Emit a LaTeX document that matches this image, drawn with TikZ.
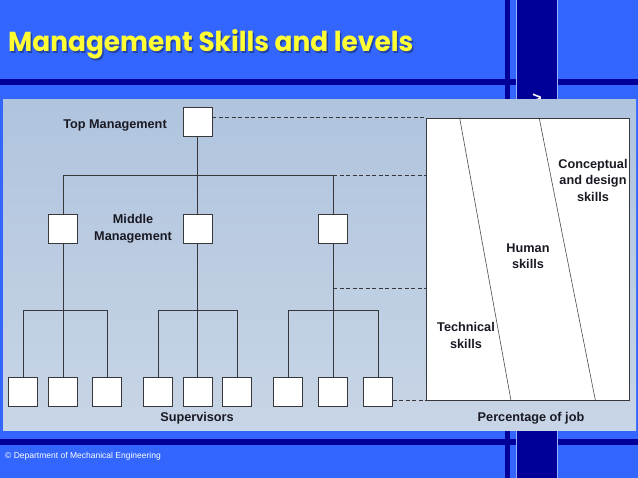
\documentclass[tikz,border=0pt]{standalone}
\usepackage{fontspec}
\setmainfont{Liberation Sans}
\newfontfamily\titlefont{Poppins}
\usetikzlibrary{calc}
\definecolor{bgblue}{RGB}{51,102,255}
\definecolor{navy}{RGB}{0,0,153}
\definecolor{edgeblue}{RGB}{150,175,255}
\definecolor{paneltop}{RGB}{176,196,222}
\definecolor{panelbot}{RGB}{200,213,230}
\definecolor{ink}{RGB}{25,25,35}
\definecolor{linegrey}{RGB}{55,55,60}
\definecolor{titleyellow}{RGB}{255,255,51}
\begin{document}
\begin{tikzpicture}[x=1pt,y=-1pt,
  orgbox/.style={draw=linegrey, fill=white, line width=0.9pt, minimum width=29pt, minimum height=29pt, inner sep=0pt},
  link/.style={draw=linegrey, line width=0.9pt},
  dashlink/.style={draw=linegrey, line width=0.9pt, dash pattern=on 4pt off 2.5pt},
  lbl/.style={font=\fontsize{12.7}{16.5}\selectfont\bfseries, text=ink, align=center, inner sep=0pt},
  slant/.style={draw=gray!60!black, line width=0.6pt}]
\useasboundingbox (0,0) rectangle (638,478);
% background
\fill[bgblue] (0,0) rectangle (638,478);
\fill[navy] (0,79) rectangle (638,85);
\fill[navy] (0,439) rectangle (638,445);
\fill[navy] (505,0) rectangle (510,478);
\fill[navy] (516,0) rectangle (557,478);
\draw[edgeblue, line width=0.8pt] (516,0) -- (516,478) (557,0) -- (557,478);
\node[text=white, font=\fontsize{16}{16}\selectfont\bfseries, inner sep=0pt] (mark) at (537,99) {>};
% title
\node[anchor=base west, inner sep=0pt, text=black, opacity=0.35] (titleshadow) at (9.5,53.5)
  {\resizebox{405pt}{22pt}{\titlefont\bfseries Management Skills and levels}};
\node[anchor=base west, inner sep=0pt, text=titleyellow] (title) at (8,52)
  {\resizebox{405pt}{22pt}{\titlefont\bfseries Management Skills and levels}};
% panel
\shade[top color=paneltop, bottom color=panelbot] (3,100) rectangle (636,431);
% chart
\node[draw=linegrey, fill=white, line width=0.9pt, minimum width=203pt, minimum height=282pt, inner sep=0pt] (chart) at (527.5,259) {};
\draw[slant] ($(chart.north west)!0.167!(chart.north east)$) -- ($(chart.south west)!0.419!(chart.south east)$);
\draw[slant] ($(chart.north west)!0.557!(chart.north east)$) -- ($(chart.south west)!0.833!(chart.south east)$);
% org boxes
\node[orgbox] (top) at (197.5,121.5) {};
\node[orgbox] (m1) at (63,228.5) {};
\node[orgbox] (m2) at (197.5,228.5) {};
\node[orgbox] (m3) at (333,228.5) {};
\foreach \n/\x in {1/23,2/63,3/107,4/158,5/197.5,6/237,7/288,8/333,9/378}
  \node[orgbox] (s\n) at (\x,391.5) {};
% tree links
\coordinate (hl) at (63,175);
\coordinate (hr) at (333,175);
\draw[link] (top) -- (m2);
\draw[link] (m1.north) -- (hl) -- (hr) -- (m3.north);
\coordinate (a1) at (23,310);  \coordinate (a3) at (107,310);
\coordinate (b1) at (158,310); \coordinate (b3) at (237,310);
\coordinate (c1) at (288,310); \coordinate (c3) at (378,310);
\draw[link] (m1) -- (s2);
\draw[link] (m2) -- (s5);
\draw[link] (m3) -- (s8);
\draw[link] (s1.north) -- (a1) -- (a3) -- (s3.north);
\draw[link] (s4.north) -- (b1) -- (b3) -- (s6.north);
\draw[link] (s7.north) -- (c1) -- (c3) -- (s9.north);
% dashed links to chart
\coordinate (d3) at (333,288);
\draw[dashlink] (top.east |- chart.north west) -- (chart.north west);
\draw[dashlink] (hr) -- (hr -| chart.west);
\draw[dashlink] (d3) -- (d3 -| chart.west);
\draw[dashlink] (s9.east |- chart.south west) -- (chart.south west);
% labels
\node[lbl] (toplbl) at (115,125) {Top Management};
\node[lbl] (midlbl) at (133,228.5) {Middle\\Management};
\node[lbl] (suplbl) at (197,418) {Supervisors};
\node[lbl] (conc) at (593,180) {Conceptual\\and design\\skills};
\node[lbl] (hum) at (528,256) {Human\\skills};
\node[lbl] (tech) at (466,335.5) {Technical\\skills};
\node[lbl] (pct) at (531,418) {Percentage of job};
% footer
\node[anchor=base west, text=white, font=\fontsize{8.5}{10}\selectfont, inner sep=0pt] (copy) at (5,459)
  {\textcopyright{} Department of Mechanical Engineering};
\end{tikzpicture}
\end{document}
